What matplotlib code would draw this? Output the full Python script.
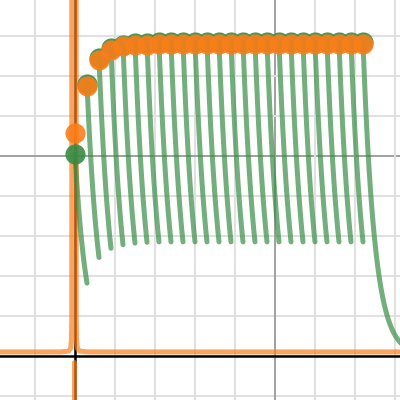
import numpy as np
import matplotlib
matplotlib.use('Agg')
import matplotlib.pyplot as plt

# dose times (every 0.3)
dose_t = [0.3 * i for i in range(25)]
# green peaks at each dose
green_peak = [5.04, 6.79, 7.44, 7.68, 7.77, 7.81, 7.82, 7.83, 7.83, 7.83,
              7.83, 7.83, 7.83, 7.83, 7.83, 7.83, 7.83, 7.83, 7.83, 7.83,
              7.83, 7.83, 7.83, 7.83, 7.83]
# green value at the end of each segment (just before the next dose)
green_trough = [1.81, 2.45, 2.68, 2.77, 2.81, 2.83, 2.84, 2.84, 2.84, 2.84,
                2.84, 2.84, 2.84, 2.84, 2.84, 2.84, 2.84, 2.84, 2.84, 2.84,
                2.84, 2.84, 2.84, 2.84, 0.13]
seg_end = dose_t[1:] + [8.4]
# orange dots
orange_peak = [5.56, 6.74, 7.39, 7.64, 7.73, 7.76, 7.77, 7.78, 7.78, 7.78,
               7.78, 7.78, 7.78, 7.78, 7.78, 7.78, 7.78, 7.78, 7.78, 7.78,
               7.78, 7.78, 7.78, 7.78, 7.78]

# orange curve: flat tail, spike near x=0, flat tail (one path)
orange_x = [-2.0, -0.36, -0.16, -0.11, -0.09, -0.08, -0.08,
            0.03, 0.03, 0.04, 0.06, 0.11, 0.31, 8.3]
orange_y = [0.09, 0.09, 0.11, 0.18, 0.35, 1.0, 9.2,
            9.2, 1.0, 0.35, 0.18, 0.11, 0.09, 0.09]
orange_low_x = [-0.025, -0.025]
orange_low_y = [-0.16, -1.3]

GREEN = '#388c46'
ORANGE = '#fa7e19'

fig = plt.figure(figsize=(4, 4), dpi=100)
ax = fig.add_axes([0, 0, 1, 1])
ax.set_xlim(-1.875, 8.125)
ax.set_ylim(-1.1125, 8.8875)

# grid
for g in range(-1, 9):
    c = '#a0a0a0' if g == 5 else '#e0e0e0'
    ax.axvline(g, color=c, lw=1.4, zorder=0)
    ax.axhline(g, color=c, lw=1.4, zorder=0)
ax.axhline(0, color='black', lw=1.8, zorder=1)
ax.axvline(0, color='black', lw=1.8, zorder=1)

# orange curve
ax.plot(orange_x, orange_y, color=ORANGE, alpha=0.7, lw=3.6, zorder=2,
        solid_capstyle='round', solid_joinstyle='round')
ax.plot(orange_low_x, orange_low_y, color=ORANGE, alpha=0.7, lw=3.6, zorder=2,
        solid_capstyle='round')

# green decay segments
s = np.linspace(0, 1, 40)
for t0, t1, p, q in zip(dose_t, seg_end, green_peak, green_trough):
    tt = t0 + (t1 - t0) * s
    yy = p * (q / p) ** s
    ax.plot(tt, yy, color=GREEN, alpha=0.7, lw=3.6, zorder=3, solid_capstyle='round')

# dots
ax.plot(dose_t, green_peak, 'o', color=GREEN, alpha=0.9, ms=14.5, mew=0, zorder=4)
ax.plot(dose_t, orange_peak, 'o', color=ORANGE, alpha=0.9, ms=14.5, mew=0, zorder=5)

ax.set_xticks([])
ax.set_yticks([])
for sp in ax.spines.values():
    sp.set_visible(False)

fig.savefig('out.png', dpi=100)
